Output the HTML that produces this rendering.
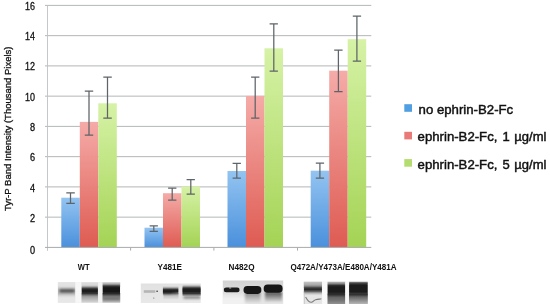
<!DOCTYPE html>
<html><head><meta charset="utf-8"><title>Tyr-P Band Intensity</title>
<style>html,body{margin:0;padding:0;background:#fff}svg{display:block}text{font-family:"Liberation Sans",Arial,Helvetica,sans-serif;fill:#111}</style>
</head><body>
<svg width="550" height="307" viewBox="0 0 550 307">
<defs>
<linearGradient id="gb" x1="0" y1="0" x2="0" y2="1"><stop offset="0" stop-color="#93c4f1"/><stop offset="1" stop-color="#4a90dc"/></linearGradient>
<linearGradient id="gr" x1="0" y1="0" x2="0" y2="1"><stop offset="0" stop-color="#f5aba8"/><stop offset="1" stop-color="#de5b52"/></linearGradient>
<linearGradient id="gg" x1="0" y1="0" x2="0" y2="1"><stop offset="0" stop-color="#d6f2a6"/><stop offset="1" stop-color="#a4d355"/></linearGradient>
</defs>
<rect width="550" height="307" fill="#fff"/>
<line x1="45" y1="5.4" x2="371.3" y2="5.4" stroke="#a0a4a4" stroke-width="0.8"/>
<line x1="45" y1="35.65" x2="371.3" y2="35.65" stroke="#a0a4a4" stroke-width="0.8"/>
<line x1="45" y1="65.9" x2="371.3" y2="65.9" stroke="#a0a4a4" stroke-width="0.8"/>
<line x1="45" y1="96.15" x2="371.3" y2="96.15" stroke="#a0a4a4" stroke-width="0.8"/>
<line x1="45" y1="126.4" x2="371.3" y2="126.4" stroke="#a0a4a4" stroke-width="0.8"/>
<line x1="45" y1="156.65" x2="371.3" y2="156.65" stroke="#a0a4a4" stroke-width="0.8"/>
<line x1="45" y1="186.9" x2="371.3" y2="186.9" stroke="#a0a4a4" stroke-width="0.8"/>
<line x1="45" y1="217.15" x2="371.3" y2="217.15" stroke="#a0a4a4" stroke-width="0.8"/>
<rect x="61.3" y="197.7" width="18.5" height="49.7" fill="url(#gb)"/>
<rect x="79.8" y="121.9" width="18.5" height="125.5" fill="url(#gr)"/>
<rect x="98.3" y="103.3" width="18.5" height="144.1" fill="url(#gg)"/>
<rect x="144.5" y="227.7" width="18.5" height="19.7" fill="url(#gb)"/>
<rect x="163.0" y="193.2" width="18.5" height="54.2" fill="url(#gr)"/>
<rect x="181.5" y="186.4" width="18.5" height="61.0" fill="url(#gg)"/>
<rect x="227.5" y="171.0" width="18.5" height="76.4" fill="url(#gb)"/>
<rect x="246.0" y="95.9" width="18.5" height="151.5" fill="url(#gr)"/>
<rect x="264.5" y="48.3" width="18.5" height="199.1" fill="url(#gg)"/>
<rect x="310.7" y="170.7" width="18.5" height="76.7" fill="url(#gb)"/>
<rect x="329.2" y="70.7" width="18.5" height="176.7" fill="url(#gr)"/>
<rect x="347.7" y="39.2" width="18.5" height="208.2" fill="url(#gg)"/>
<line x1="47.5" y1="5.4" x2="47.5" y2="250.8" stroke="#bec2c2" stroke-width="0.9"/>
<line x1="45" y1="247.4" x2="371.3" y2="247.4" stroke="#a6aaaa" stroke-width="1"/>
<line x1="130.6" y1="247.4" x2="130.6" y2="250.6" stroke="#a9adad" stroke-width="1"/>
<line x1="213.9" y1="247.4" x2="213.9" y2="250.6" stroke="#a9adad" stroke-width="1"/>
<line x1="297.5" y1="247.4" x2="297.5" y2="250.6" stroke="#a9adad" stroke-width="1"/>
<path d="M70.5 192.8V203.4M66.3 192.8H74.8M66.3 203.4H74.8" stroke="#5e6468" stroke-width="1.25" fill="none"/>
<path d="M89.0 91.2V135.0M84.8 91.2H93.2M84.8 135.0H93.2" stroke="#5e6468" stroke-width="1.25" fill="none"/>
<path d="M107.5 77.0V118.2M103.3 77.0H111.8M103.3 118.2H111.8" stroke="#5e6468" stroke-width="1.25" fill="none"/>
<path d="M153.8 225.9V231.4M149.6 225.9H157.9M149.6 231.4H157.9" stroke="#5e6468" stroke-width="1.25" fill="none"/>
<path d="M172.2 188.2V200.1M168.1 188.2H176.4M168.1 200.1H176.4" stroke="#5e6468" stroke-width="1.25" fill="none"/>
<path d="M190.8 179.5V194.1M186.6 179.5H194.9M186.6 194.1H194.9" stroke="#5e6468" stroke-width="1.25" fill="none"/>
<path d="M236.8 163.4V178.0M232.6 163.4H240.9M232.6 178.0H240.9" stroke="#5e6468" stroke-width="1.25" fill="none"/>
<path d="M255.2 77.0V118.2M251.1 77.0H259.4M251.1 118.2H259.4" stroke="#5e6468" stroke-width="1.25" fill="none"/>
<path d="M273.8 23.9V71.0M269.6 23.9H277.9M269.6 71.0H277.9" stroke="#5e6468" stroke-width="1.25" fill="none"/>
<path d="M319.9 163.2V178.0M315.8 163.2H324.1M315.8 178.0H324.1" stroke="#5e6468" stroke-width="1.25" fill="none"/>
<path d="M338.4 50.0V91.5M334.2 50.0H342.6M334.2 91.5H342.6" stroke="#5e6468" stroke-width="1.25" fill="none"/>
<path d="M356.9 16.0V61.0M352.8 16.0H361.1M352.8 61.0H361.1" stroke="#5e6468" stroke-width="1.25" fill="none"/>
<text x="25.0" y="9.7" font-size="10.5" textLength="10.0" lengthAdjust="spacingAndGlyphs" stroke="#111" stroke-width="0.3">16</text>
<text x="25.0" y="39.9" font-size="10.5" textLength="10.0" lengthAdjust="spacingAndGlyphs" stroke="#111" stroke-width="0.3">14</text>
<text x="25.0" y="70.0" font-size="10.5" textLength="10.0" lengthAdjust="spacingAndGlyphs" stroke="#111" stroke-width="0.3">12</text>
<text x="25.0" y="100.8" font-size="10.5" textLength="10.0" lengthAdjust="spacingAndGlyphs" stroke="#111" stroke-width="0.3">10</text>
<text x="29.9" y="131.2" font-size="10.5" textLength="5.1" lengthAdjust="spacingAndGlyphs" stroke="#111" stroke-width="0.3">8</text>
<text x="29.9" y="161.0" font-size="10.5" textLength="5.1" lengthAdjust="spacingAndGlyphs" stroke="#111" stroke-width="0.3">6</text>
<text x="29.9" y="192.2" font-size="10.5" textLength="5.1" lengthAdjust="spacingAndGlyphs" stroke="#111" stroke-width="0.3">4</text>
<text x="29.9" y="222.0" font-size="10.5" textLength="5.1" lengthAdjust="spacingAndGlyphs" stroke="#111" stroke-width="0.3">2</text>
<text x="29.9" y="253.6" font-size="10.5" textLength="5.1" lengthAdjust="spacingAndGlyphs" stroke="#111" stroke-width="0.3">0</text>
<text transform="translate(11.4 128.8) rotate(-90)" font-size="9.6" text-anchor="middle" textLength="164.6" lengthAdjust="spacingAndGlyphs" stroke="#111" stroke-width="0.3">Tyr-P Band Intensity (Thousand Pixels)</text>
<text x="77.8" y="270" font-size="8.6" font-weight="bold" textLength="11.8" lengthAdjust="spacingAndGlyphs">WT</text>
<text x="157.6" y="270" font-size="8.6" font-weight="bold" textLength="24.4" lengthAdjust="spacingAndGlyphs">Y481E</text>
<text x="228.6" y="270" font-size="8.6" font-weight="bold" textLength="25.9" lengthAdjust="spacingAndGlyphs">N482Q</text>
<text x="290.4" y="270" font-size="8.6" font-weight="bold" textLength="106.2" lengthAdjust="spacingAndGlyphs">Q472A/Y473A/E480A/Y481A</text>
<rect x="404.3" y="104.2" width="7.7" height="7.6" fill="#4f9fe1"/>
<text x="418.6" y="113.7" font-size="13" textLength="94.6" lengthAdjust="spacingAndGlyphs" stroke="#111" stroke-width="0.45">no ephrin-B2-Fc</text>
<rect x="404.3" y="131.8" width="7.7" height="7.6" fill="#e87b77"/>
<text y="141.4" font-size="13" stroke="#111" stroke-width="0.45"><tspan x="417.6" textLength="79.8" lengthAdjust="spacingAndGlyphs">ephrin-B2-Fc,</tspan> <tspan x="502.5">1</tspan> <tspan x="514.3" textLength="32.1" lengthAdjust="spacingAndGlyphs">µg/ml</tspan></text>
<rect x="404.3" y="159.1" width="7.7" height="7.6" fill="#b4dc6e"/>
<text y="168.6" font-size="13" stroke="#111" stroke-width="0.45"><tspan x="417.6" textLength="79.8" lengthAdjust="spacingAndGlyphs">ephrin-B2-Fc,</tspan> <tspan x="502.5">5</tspan> <tspan x="514.3" textLength="32.1" lengthAdjust="spacingAndGlyphs">µg/ml</tspan></text>
<filter id="f3" x="-30%" y="-60%" width="160%" height="220%"><feGaussianBlur stdDeviation="0.35"/></filter>
<filter id="f5" x="-5%" y="-20%" width="110%" height="140%"><feGaussianBlur stdDeviation="0.5"/></filter>
<filter id="f6" x="-30%" y="-60%" width="160%" height="220%"><feGaussianBlur stdDeviation="0.6"/></filter>
<filter id="f10" x="-30%" y="-60%" width="160%" height="220%"><feGaussianBlur stdDeviation="1.0"/></filter>
<filter id="f15" x="-30%" y="-60%" width="160%" height="220%"><feGaussianBlur stdDeviation="1.5"/></filter>
<filter id="f20" x="-30%" y="-60%" width="160%" height="220%"><feGaussianBlur stdDeviation="2.0"/></filter>
<filter id="fb" x="-30%" y="-60%" width="160%" height="220%"><feGaussianBlur stdDeviation="0.45 0.8"/></filter>
<filter id="fc" x="-30%" y="-60%" width="160%" height="220%"><feGaussianBlur stdDeviation="0.4 1.2"/></filter>
<clipPath id="c1"><rect x="57.8" y="282.3" width="62.4" height="20.5"/></clipPath>
<g filter="url(#f5)"><g clip-path="url(#c1)">
<rect x="57" y="281" width="64.0" height="23.0" fill="#eaeaea"/>
<linearGradient id="sg1" x1="0" y1="0" x2="0" y2="1"><stop offset="0" stop-color="#e2e2e2"/><stop offset="1" stop-color="#e8e8e8"/></linearGradient><rect x="57.8" y="281" width="17.4" height="23.0" fill="url(#sg1)"/>
<rect x="57.8" y="287.6" width="17.4" height="7.9" fill="#b8b8b8" opacity="0.9" filter="url(#fc)"/>
<rect x="59.5" y="289.2" width="15.1" height="3.2" rx="1" fill="#484848" opacity="0.95" filter="url(#f10)"/>
<linearGradient id="sg2" x1="0" y1="0" x2="0" y2="1"><stop offset="0" stop-color="#e2e2e2"/><stop offset="1" stop-color="#cccccc"/></linearGradient><rect x="81.4" y="281" width="16.6" height="8.0" fill="url(#sg2)"/>
<linearGradient id="sg3" x1="0" y1="0" x2="0" y2="1"><stop offset="0" stop-color="#7c7c7c"/><stop offset="1" stop-color="#dcdcdc"/></linearGradient><rect x="81.4" y="293" width="16.6" height="10.0" fill="url(#sg3)" filter="url(#f6)"/>
<rect x="81.6" y="287.5" width="16.3" height="6.7" rx="0.8" fill="#1a1a1a" filter="url(#fb)"/>
<linearGradient id="sg4" x1="0" y1="0" x2="0" y2="1"><stop offset="0" stop-color="#d4d4d4"/><stop offset="1" stop-color="#a8a8a8"/></linearGradient><rect x="102.4" y="281" width="18.6" height="6.0" fill="url(#sg4)"/>
<linearGradient id="sg5" x1="0" y1="0" x2="0" y2="1"><stop offset="0" stop-color="#505050"/><stop offset="1" stop-color="#c8c8c8"/></linearGradient><rect x="102.4" y="293" width="18.6" height="10.0" fill="url(#sg5)" filter="url(#f6)"/>
<rect x="103" y="297.6" width="17.0" height="2.6" fill="#5c5c5c" opacity="0.65" filter="url(#f10)"/>
<rect x="102.6" y="285.2" width="17.5" height="9.0" rx="0.8" fill="#181818" filter="url(#fb)"/>
<rect x="75.4" y="281" width="5.8" height="23.0" fill="#f7f7f7" filter="url(#f3)"/>
<rect x="98.2" y="281" width="4.0" height="23.0" fill="#f3f3f3" filter="url(#f3)"/>
</g></g>
<clipPath id="c2"><rect x="140.8" y="283.4" width="60.0" height="19.6"/></clipPath>
<g filter="url(#f5)"><g clip-path="url(#c2)">
<linearGradient id="sg6" x1="0" y1="0" x2="0" y2="1"><stop offset="0" stop-color="#e1e1e1"/><stop offset="1" stop-color="#e9e9e9"/></linearGradient><rect x="140" y="283" width="62.0" height="21.0" fill="url(#sg6)"/>
<rect x="143.8" y="290.2" width="11.5" height="2.6" fill="#b0b0b0" opacity="0.9" filter="url(#f6)"/>
<circle cx="157.1" cy="291.2" r="0.8" fill="#2a2a2a"/>
<circle cx="153.8" cy="298" r="0.6" fill="#666"/>
<linearGradient id="sg7" x1="0" y1="0" x2="0" y2="1"><stop offset="0" stop-color="#a8a8a8"/><stop offset="1" stop-color="#e4e4e4"/></linearGradient><rect x="163.5" y="293" width="15.0" height="6.5" fill="url(#sg7)" filter="url(#f6)"/>
<path d="M162.9 288.3 H178.4 V293.2 L170 294 H162.9 Z" fill="#1a1a1a" filter="url(#fb)"/>
<linearGradient id="sg8" x1="0" y1="0" x2="0" y2="1"><stop offset="0" stop-color="#5a5a5a"/><stop offset="1" stop-color="#c0c0c0"/></linearGradient><rect x="182.6" y="293" width="18.2" height="3.0" fill="url(#sg8)" filter="url(#f6)"/>
<rect x="183.5" y="295.8" width="16.8" height="3.0" fill="#7e7e7e" opacity="0.85" filter="url(#f10)"/>
<rect x="182.4" y="286.7" width="18.5" height="7.3" rx="1.2" fill="#1a1a1a" filter="url(#fb)"/>
</g></g>
<clipPath id="c3"><rect x="222.8" y="280.6" width="60.4" height="23.4"/></clipPath>
<g filter="url(#f5)"><g clip-path="url(#c3)">
<linearGradient id="sg9" x1="0" y1="0" x2="0" y2="1"><stop offset="0" stop-color="#d2d2d2"/><stop offset="1" stop-color="#e8e8e8"/></linearGradient><rect x="222" y="280" width="62.0" height="25.0" fill="url(#sg9)"/>
<rect x="218" y="296" width="28.0" height="12.0" fill="#f2f2f2" opacity="0.9" filter="url(#f20)"/>
<rect x="223.8" y="287.5" width="15.8" height="4.8" rx="2.4" fill="#1a1a1a" filter="url(#f6)"/>
<rect x="229.2" y="287.2" width="2.0" height="1.4" fill="#bbb" opacity="0.8" filter="url(#f6)"/>
<linearGradient id="sg10" x1="0" y1="0" x2="0" y2="1"><stop offset="0" stop-color="#808080"/><stop offset="1" stop-color="#e2e2e2"/></linearGradient><rect x="245" y="292" width="15.5" height="11.0" fill="url(#sg10)" filter="url(#f10)"/>
<rect x="243.5" y="285.9" width="17.9" height="8.0" rx="3.8" fill="#161616" filter="url(#f6)"/>
<linearGradient id="sg11" x1="0" y1="0" x2="0" y2="1"><stop offset="0" stop-color="#4c4c4c"/><stop offset="1" stop-color="#d0d0d0"/></linearGradient><rect x="265" y="292" width="17.0" height="9.5" fill="url(#sg11)" filter="url(#f10)"/>
<rect x="263.7" y="284.4" width="18.9" height="8.4" rx="3.8" fill="#161616" filter="url(#f6)"/>
</g></g>
<clipPath id="c4"><rect x="303.6" y="281.8" width="64.2" height="22.2"/></clipPath>
<g filter="url(#f5)"><g clip-path="url(#c4)">
<rect x="303" y="281" width="65.0" height="24.0" fill="#eeeeee"/>
<rect x="303.6" y="281" width="18.4" height="24.0" fill="#e6e6e6"/>
<linearGradient id="sg12" x1="0" y1="0" x2="0" y2="1"><stop offset="0" stop-color="#cccccc"/><stop offset="1" stop-color="#8a8a8a"/></linearGradient><rect x="303.6" y="281" width="18.4" height="7.0" fill="url(#sg12)"/>
<linearGradient id="sg13" x1="0" y1="0" x2="0" y2="1"><stop offset="0" stop-color="#9c9c9c"/><stop offset="1" stop-color="#e4e4e4"/></linearGradient><rect x="303.6" y="291" width="18.4" height="4.5" fill="url(#sg13)" filter="url(#f6)"/>
<rect x="303.6" y="291" width="1.4" height="13.0" fill="#c8c8c8" opacity="0.8" filter="url(#f6)"/>
<rect x="303.8" y="287.2" width="18.2" height="4.3" rx="0.8" fill="#1e1e1e" filter="url(#fb)"/>
<path d="M305.6 297 C307.5 300.5 309.5 302.6 311.6 302.2 C313.6 301.8 313.8 300.2 315.6 299.8 C317.4 299.4 319 299.2 321.4 298.8" stroke="#7a7a7a" stroke-width="1.1" fill="none" filter="url(#f6)"/>
<rect x="327.4" y="281" width="17.8" height="5.0" fill="#b0b0b0"/>
<linearGradient id="sg14" x1="0" y1="0" x2="0" y2="1"><stop offset="0" stop-color="#3a3a3a"/><stop offset="1" stop-color="#969696"/></linearGradient><rect x="327.4" y="293.5" width="17.8" height="11.0" fill="url(#sg14)" filter="url(#f6)"/>
<rect x="328" y="297.2" width="16.6" height="1.6" fill="#8a8a8a" opacity="0.5" filter="url(#f10)"/>
<rect x="327.5" y="284.2" width="17.7" height="10.6" rx="1.2" fill="#1a1a1a" filter="url(#fb)"/>
<rect x="349" y="281" width="19.0" height="3.0" fill="#a4a4a4"/>
<linearGradient id="sg15" x1="0" y1="0" x2="0" y2="1"><stop offset="0" stop-color="#404040"/><stop offset="1" stop-color="#bcbcbc"/></linearGradient><rect x="349" y="293.5" width="19.0" height="11.0" fill="url(#sg15)" filter="url(#f6)"/>
<rect x="349.1" y="282.8" width="18.8" height="11.8" rx="1.2" fill="#1a1a1a" filter="url(#fb)"/>
<rect x="322.2" y="281" width="5.0" height="24.0" fill="#f9f9f9" filter="url(#f3)"/>
<rect x="345.4" y="281" width="3.4" height="24.0" fill="#f9f9f9" filter="url(#f3)"/>
</g></g>
</svg>
</body></html>
